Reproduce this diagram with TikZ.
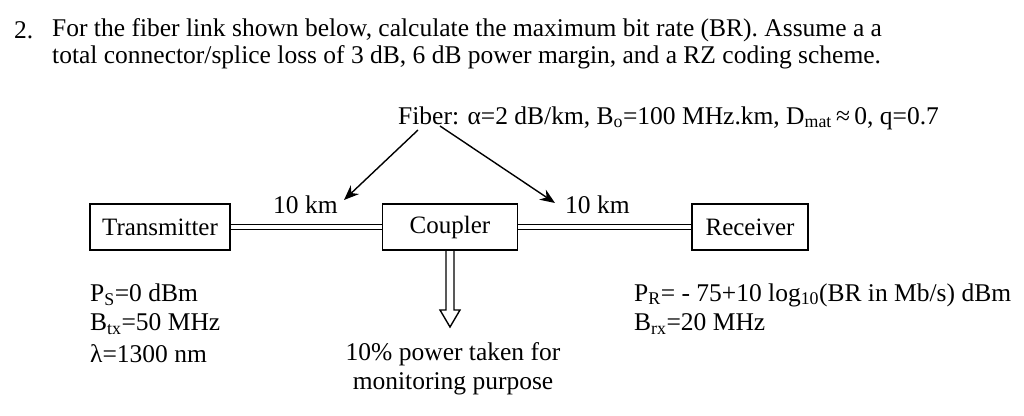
\documentclass[tikz,border=0pt]{standalone}
\usepackage{fontspec}
\setmainfont{Liberation Serif}
\usetikzlibrary{arrows.meta}
\tikzset{
  blk/.style={draw,line width=1.8pt,minimum height=46pt,inner sep=0pt,font=\fontsize{25}{28}\selectfont},
  txt/.style={anchor=west,inner sep=0pt,font=\fontsize{25.5}{30}\selectfont},
  fib/.style={double,double distance=4pt,line width=1pt},
  ptr/.style={-{Stealth[length=15pt,width=12pt]},line width=1.4pt}
}
\begin{document}
\begin{tikzpicture}[x=1pt,y=-1pt]
\useasboundingbox (0,0) rectangle (1024,415);
\node[txt] (q0) at (14,30) {2.};
\node[txt] (q1) at (52,30) {For the fiber link shown below, calculate the maximum bit rate (BR). Assume a a};
\node[txt] (q2) at (52,57) {total connector/splice loss of 3 dB, 6 dB power margin, and a RZ coding scheme.};
\node[txt] (fiber) at (398,118) {Fiber: α=2 dB/km, B\textsubscript{o}=100 MHz.km, D\textsubscript{mat}\,≈\,0, q=0.7};
\node[blk,minimum width=140pt] (tx) at (160,227) {Transmitter};
\node[blk,minimum width=135pt] (cp) at (450,227) {Coupler};
\node[blk,minimum width=116pt] (rx) at (750,227) {Receiver};
\draw[fib] (tx.east) -- (cp.west);
\draw[fib] (cp.east) -- (rx.west);
\node[txt] (l1) at (273,205) {10 km};
\node[txt] (l2) at (565,205) {10 km};
\coordinate (fa) at (418,130);
\coordinate (fb) at (440,126);
\draw[ptr] (fa) -- (344,200);
\draw[ptr] (fb) -- (555,203);
\draw[line width=1.4pt] (446,250) -- (446,310) -- (440,310) -- (450,327) -- (460,310) -- (454,310) -- (454,250);
\node[txt] (ps) at (90,295) {P\textsubscript{S}=0 dBm};
\node[txt] (btx) at (90,324) {B\textsubscript{tx}=50 MHz};
\node[txt] (lam) at (90,354) {λ=1300 nm};
\node[txt] (pr) at (634,295) {P\textsubscript{R}= - 75+10 log\textsubscript{10}(BR in Mb/s) dBm};
\node[txt] (brx) at (634,324) {B\textsubscript{rx}=20 MHz};
\node[align=center,inner sep=0pt,font=\fontsize{25.5}{29}\selectfont] (mon) at (453,369) {10\% power taken for\\monitoring purpose};
\end{tikzpicture}
\end{document}
